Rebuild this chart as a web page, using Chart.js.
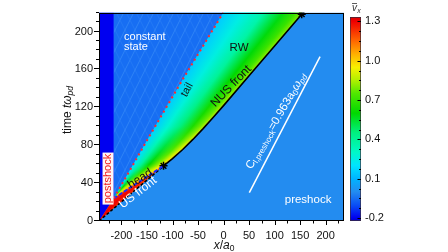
<!DOCTYPE html>
<html><head><meta charset="utf-8">
<script src="https://cdn.jsdelivr.net/npm/chart.js@4.4.1/dist/chart.umd.min.js"></script>
<style>
html,body{margin:0;padding:0;background:#fff;overflow:hidden}
#wrap{position:relative;width:448px;height:252px}
#main{position:absolute;left:0;top:0}
#cb{position:absolute;left:340px;top:0}
</style></head><body>
<div id="wrap"><canvas id="main" width="448" height="252"></canvas><canvas id="cb" width="108" height="252"></canvas></div>
<script>
// ---------------- data ----------------
const xRange = [-244, 236];
const tRange = [0, 220];
const xTickValues = [-200, -150, -100, -50, 0, 50, 100, 150, 200];
const tTickValues = [0, 40, 80, 120, 160, 200];
const cbTickValues = [-0.2, 0.1, 0.4, 0.7, 1.0, 1.3];
const cbRange = [-0.223, 1.334];

// characteristic lines (x/a0 , t*omega_pd)
const tailX = [-215, -144, -79, -0.5];
const tailT = [24, 90.6, 150.3, 220];
const headX = [-215, -117.6];
const headT = [24, 58.2];
const usFrontX = [-244, -117.6];
const usFrontT = [0, 58.2];
const nusFrontX = [-117.6, -100, -80, -60, -40, -20, 0, 50, 100, 153.2];
const nusFrontT = [58.2, 65.9, 75.5, 86.1, 97.5, 109.5, 121.8, 153.3, 184.8, 218.3];
const soundLineX = [50.5, 189.1];
const soundLineT = [29.9, 173.5];
const markerX = [-117.6, 153.2];
const markerT = [58.2, 218.3];
const postshockEdgeX = [-244, -215, -215];
const postshockEdgeT = [0, 24, 220];

// field values (v_x) in the regions
const postshockV = -0.2;
const constantV = -0.05;
const preshockV = 0.0;
// rarefaction wave: rows in time, columns = fraction between tail (0) and front (1)
const rwRowT = [24, 40, 60, 100, 150, 220];
const rwU = [0, 0.25, 0.5, 0.75, 0.9, 1];
const rwV = [
  [0.50, 0.80, 1.00, 1.10, 1.18, 1.22],
  [0.25, 0.55, 0.80, 0.95, 1.05, 1.10],
  [0.20, 0.40, 0.60, 0.80, 0.92, 1.00],
  [0.15, 0.28, 0.45, 0.65, 0.78, 0.88],
  [0.15, 0.26, 0.40, 0.60, 0.72, 0.82],
  [0.15, 0.25, 0.36, 0.58, 0.70, 0.80]
];
// wedge between head and US front
const usRowT = [0, 30, 58.2];
const usU = [0, 0.5, 1];
const usV = [
  [1.32, 1.30, 1.25],
  [1.25, 1.30, 1.22],
  [1.10, 1.20, 1.10]
];

// ---------------- styles ----------------
const F = "'Liberation Sans', Arial, sans-serif";
const cmapV = [-0.223, -0.2, -0.1, 0.0, 0.1, 0.2, 0.3, 0.45, 0.6, 0.75, 0.85, 0.95, 1.05, 1.15, 1.3, 1.334];
const cmapC = ['#0000c8', '#0000f0', '#0a50f5', '#238cf0', '#00b4ff', '#00e4ff', '#00f8c8', '#00f080', '#00d800', '#50e800', '#b0f000', '#f8f000', '#ffb000', '#ff6800', '#f00000', '#d80000'];

function hex(h) { return [parseInt(h.substr(1, 2), 16), parseInt(h.substr(3, 2), 16), parseInt(h.substr(5, 2), 16)]; }
function colorOf(v) {
  if (v <= cmapV[0]) return cmapC[0];
  for (let i = 1; i < cmapV.length; i++) {
    if (v <= cmapV[i]) {
      const f = (v - cmapV[i - 1]) / (cmapV[i] - cmapV[i - 1]);
      const a = hex(cmapC[i - 1]), b = hex(cmapC[i]);
      return 'rgb(' + a.map((c, k) => Math.round(c + f * (b[k] - c))).join(',') + ')';
    }
  }
  return cmapC[cmapC.length - 1];
}
function interp(xs, ys, v) {
  if (v <= xs[0]) return ys[0];
  for (let i = 1; i < xs.length; i++) {
    if (v <= xs[i]) { const f = (v - xs[i - 1]) / (xs[i] - xs[i - 1]); return ys[i - 1] + f * (ys[i] - ys[i - 1]); }
  }
  return ys[ys.length - 1];
}
function pts(xs, ts) { return xs.map((v, i) => ({ x: v, y: ts[i] })); }

function drawRich(ctx, parts, cx, cy, ang, color) {
  ctx.save();
  ctx.translate(cx, cy);
  ctx.rotate(ang * Math.PI / 180);
  ctx.fillStyle = color;
  ctx.textBaseline = 'middle';
  ctx.textAlign = 'left';
  let w = 0;
  parts.forEach(p => { ctx.font = p.f; w += ctx.measureText(p.s).width; });
  let xx = -w / 2;
  parts.forEach(p => { ctx.font = p.f; ctx.fillText(p.s, xx, p.dy || 0); xx += ctx.measureText(p.s).width; });
  ctx.restore();
}

function polyPath(ctx, x, y, ptsArr) {
  ctx.beginPath();
  ptsArr.forEach((p, i) => {
    const px = x.getPixelForValue(p[0]), py = y.getPixelForValue(p[1]);
    if (i === 0) ctx.moveTo(px, py); else ctx.lineTo(px, py);
  });
  ctx.closePath();
}

function streakPattern(ctx) {
  const c = document.createElement('canvas');
  c.width = 10; c.height = 20;
  const g = c.getContext('2d');
  g.lineWidth = 1;
  g.strokeStyle = 'rgba(110,190,255,0.28)';
  g.beginPath();
  g.moveTo(0, 20); g.lineTo(10, 0);
  g.stroke();
  g.strokeStyle = 'rgba(90,170,255,0.18)';
  g.beginPath();
  g.moveTo(0, 0); g.lineTo(10, 20);
  g.stroke();
  return ctx.createPattern(c, 'repeat');
}

function rowBands(ctx, x, y, a, t0, t1, lT, lX, rT, rX, rowT, U, V) {
  const pyA = Math.floor(y.getPixelForValue(t0));
  const pyB = Math.floor(Math.max(a.top, y.getPixelForValue(t1)));
  for (let py = pyA; py >= pyB; py--) {
    const t = y.getValueForPixel(py + 0.5);
    if (t < t0 - 0.6 || t > t1 + 0.6) continue;
    const xl = interp(lT, lX, t), xr = interp(rT, rX, t);
    const pl = x.getPixelForValue(xl), pr = x.getPixelForValue(xr);
    if (pr - pl < 0.3) continue;
    const g = ctx.createLinearGradient(pl, 0, pr, 0);
    U.forEach((u, j) => g.addColorStop(u, colorOf(interp(rowT, V.map(r => r[j]), t))));
    ctx.fillStyle = g;
    ctx.fillRect(pl, py, pr - pl, 1);
  }
}

const fieldPlugin = {
  id: 'field',
  beforeDatasetsDraw(chart) {
    const { ctx, chartArea: a, scales: { x, y } } = chart;
    ctx.save();
    ctx.beginPath(); ctx.rect(a.left, a.top, a.right - a.left, a.bottom - a.top); ctx.clip();
    ctx.fillStyle = colorOf(preshockV);
    ctx.fillRect(a.left, a.top, a.right - a.left, a.bottom - a.top);
    // postshock strip
    const strip = [[x.min, 0]].concat(postshockEdgeX.map((v, i) => [v, postshockEdgeT[i]]), [[x.min, y.max]]);
    polyPath(ctx, x, y, strip);
    ctx.fillStyle = colorOf(postshockV); ctx.fill();
    // constant state
    const cs = [];
    postshockEdgeX.forEach((v, i) => { if (postshockEdgeT[i] >= tailT[0]) cs.push([v, postshockEdgeT[i]]); });
    for (let i = tailX.length - 1; i >= 0; i--) cs.push([tailX[i], tailT[i]]);
    polyPath(ctx, x, y, cs);
    ctx.fillStyle = colorOf(constantV); ctx.fill();
    ctx.fillStyle = streakPattern(ctx); ctx.fill();
    // rarefaction wave
    const rT = headT.concat(nusFrontT.slice(1)), rX = headX.concat(nusFrontX.slice(1));
    rowBands(ctx, x, y, a, tailT[0], y.max, tailT, tailX, rT, rX, rwRowT, rwU, rwV);
    // wedge between head and US front
    const lT = postshockEdgeT.slice(0, 2).concat(headT.slice(1));
    const lX = postshockEdgeX.slice(0, 2).concat(headX.slice(1));
    rowBands(ctx, x, y, a, 0, usFrontT[1], lT, lX, usFrontT, usFrontX, usRowT, usU, usV);
    ctx.restore();
  },
  afterDatasetsDraw(chart) {
    const { ctx, scales: { x, y } } = chart;
    const X = v => x.getPixelForValue(v), Y = v => y.getPixelForValue(v);
    const f = (s, st) => (st || '') + ' ' + s + 'px ' + F;
    ctx.save(); ctx.font = f(11); ctx.fillStyle = '#fff'; ctx.textBaseline = 'middle'; ctx.textAlign = 'left';
    ctx.fillText('constant', X(-195), Y(194.5)); ctx.fillText('state', X(-195), Y(183.9)); ctx.restore();
    drawRich(ctx, [{ s: 'RW', f: f(11.5) }], X(30.4), Y(183.2), 0, '#111');
    drawRich(ctx, [{ s: 'tail', f: f(11) }], X(-71.5), Y(138.4), -62, '#111');
    drawRich(ctx, [{ s: 'NUS front', f: f(12) }], X(14.7), Y(142.3), -46, '#111');
    drawRich(ctx, [
      { s: 'C', f: f(11.5) }, { s: 'l,preshock', f: f(8), dy: 3 }, { s: '=0.963a', f: f(11.5) },
      { s: '0', f: f(8), dy: 3 }, { s: 'ω', f: f(11.5, 'italic') }, { s: 'pd', f: f(8, 'italic'), dy: 3 }
    ], X(102.9), Y(105.5), -60, '#fff');
    drawRich(ctx, [{ s: 'preshock', f: f(11.5) }], X(165.6), Y(21.9), 0, '#fff');
    drawRich(ctx, [{ s: 'head', f: f(12) }], X(-163.6), Y(44.6), -32, '#111');
    drawRich(ctx, [{ s: 'US front', f: f(12) }], X(-167.5), Y(29.9), -38, '#fff');
    const pcx = X(-226.3), pcy = Y(44.8);
    ctx.fillStyle = '#fff4f4';
    ctx.fillRect(pcx - 5.5, pcy - 26, 11, 52);
    drawRich(ctx, [{ s: 'postshock', f: f(11) }], pcx, pcy, -90, '#f01818');
  },
  afterDraw(chart) {
    const { ctx, chartArea: a, scales: { x, y } } = chart;
    ctx.save();
    ctx.strokeStyle = '#000'; ctx.lineWidth = 1;
    ctx.strokeRect(Math.round(a.left) + 0.5, Math.round(a.top) + 0.5, Math.round(a.right - a.left) - 1, Math.round(a.bottom - a.top) - 1);
    ctx.beginPath();
    for (let v = -225; v <= 225; v += 25) {
      const px = Math.round(x.getPixelForValue(v)) + 0.5;
      const L = (v % 50 === 0) ? 4 : 2.5;
      ctx.moveTo(px, a.bottom); ctx.lineTo(px, a.bottom + L);
    }
    for (let v = 0; v <= 220; v += 10) {
      const py = Math.round(y.getPixelForValue(v)) - 0.5;
      const L = (v % 40 === 0) ? 5 : 3;
      ctx.moveTo(a.left, py); ctx.lineTo(a.left - L, py);
    }
    ctx.stroke();
    ctx.restore();
    const f = (s, st) => (st || '') + ' ' + s + 'px ' + F;
    drawRich(ctx, [{ s: 'x', f: f(12, 'italic') }, { s: '/', f: f(12) }, { s: 'a', f: f(12, 'italic') }, { s: '0', f: f(8.5), dy: 3 }], 224, 246, 0, '#111');
    drawRich(ctx, [{ s: 'time ', f: f(12) }, { s: 't', f: f(12, 'italic') }, { s: 'ω', f: f(12, 'italic') }, { s: 'pd', f: f(8.5, 'italic'), dy: 3 }], 68, 110, -90, '#111');
  }
};

new Chart(document.getElementById('main'), {
  type: 'scatter',
  data: {
    datasets: [
      { data: pts(tailX, tailT), showLine: true, borderColor: '#ff2a2a', borderWidth: 2, borderDash: [2, 3.5], pointRadius: 0 },
      { data: pts(headX, headT), showLine: true, borderColor: '#1a2cff', borderWidth: 2, borderDash: [4, 2], pointRadius: 0 },
      { data: pts(usFrontX, usFrontT), showLine: true, borderColor: '#000', borderWidth: 1.6, borderDash: [3, 2], pointRadius: 0 },
      { data: pts(nusFrontX, nusFrontT), showLine: true, borderColor: '#000', borderWidth: 1.6, pointRadius: 0 },
      { data: pts(soundLineX, soundLineT), showLine: true, borderColor: '#fff', borderWidth: 1.5, pointRadius: 0 },
      { data: pts(markerX, markerT), showLine: false, pointStyle: 'star', pointRadius: 4, borderColor: '#000', borderWidth: 1.5, backgroundColor: '#000' }
    ]
  },
  options: {
    responsive: false, animation: false, devicePixelRatio: 1,
    layout: { padding: { left: 0, right: 104, top: 0, bottom: 0 } },
    elements: { line: { tension: 0 } },
    plugins: { legend: { display: false }, tooltip: { enabled: false } },
    scales: {
      x: {
        type: 'linear', min: xRange[0], max: xRange[1],
        grid: { display: false, drawTicks: false }, border: { display: false },
        afterBuildTicks: s => { s.ticks = xTickValues.map(v => ({ value: v })); },
        afterFit: s => { s.height = 31; },
        ticks: { autoSkip: false, maxRotation: 0, padding: 8, color: '#111', font: { family: F, size: 11 }, callback: v => String(v) }
      },
      y: {
        type: 'linear', min: tRange[0], max: tRange[1],
        grid: { display: false, drawTicks: false }, border: { display: false },
        afterBuildTicks: s => { s.ticks = tTickValues.map(v => ({ value: v })); },
        afterFit: s => { s.width = 99; },
        ticks: { autoSkip: false, padding: 6, color: '#111', font: { family: F, size: 11 }, callback: v => String(v) }
      }
    }
  },
  plugins: [fieldPlugin]
});

// ---------------- colour bar ----------------
const cbPlugin = {
  id: 'cbdeco',
  afterDatasetsDraw(chart) {
    const { ctx, chartArea: a, scales: { y } } = chart;
    ctx.save();
    ctx.strokeStyle = '#000'; ctx.lineWidth = 1;
    ctx.beginPath();
    for (let i = 0; i <= 20; i++) {
      const v = cbTickValues[0] + i * 0.075;
      const py = Math.round(y.getPixelForValue(v)) + 0.5;
      const L = (i % 4 === 0) ? 3.5 : 2;
      ctx.moveTo(a.right, py); ctx.lineTo(a.right - L, py);
    }
    ctx.stroke();
    ctx.restore();
    const cx = (a.left + a.right) / 2;
    ctx.save();
    ctx.fillStyle = '#333'; ctx.font = 'italic 10px ' + F; ctx.textBaseline = 'middle'; ctx.textAlign = 'center';
    ctx.fillText('v', cx - 1, 8);
    ctx.font = 'italic 7px ' + F;
    ctx.fillText('x', cx + 3.5, 11);
    ctx.strokeStyle = '#333'; ctx.lineWidth = 0.8;
    ctx.beginPath(); ctx.moveTo(cx - 3.5, 3.5); ctx.lineTo(cx + 1.5, 3.5); ctx.stroke();
    ctx.restore();
  }
};
function cbGradient(chart) {
  const { chartArea, scales } = chart;
  if (!chartArea || !scales.y) return '#888';
  const y = scales.y;
  const g = chart.ctx.createLinearGradient(0, y.getPixelForValue(cbRange[0]), 0, y.getPixelForValue(cbRange[1]));
  cmapV.forEach((v, i) => g.addColorStop(Math.min(1, Math.max(0, (v - cbRange[0]) / (cbRange[1] - cbRange[0]))), cmapC[i]));
  return g;
}
new Chart(document.getElementById('cb'), {
  type: 'bar',
  data: { labels: ['v'], datasets: [{ data: [cbRange.slice()], backgroundColor: c => cbGradient(c.chart), borderColor: '#3a2a3a', borderWidth: 1, borderSkipped: false, barPercentage: 1, categoryPercentage: 1 }] },
  options: {
    responsive: false, animation: false, devicePixelRatio: 1,
    layout: { padding: { left: 10, top: 17, bottom: 31, right: 0 } },
    plugins: { legend: { display: false }, tooltip: { enabled: false } },
    scales: {
      x: { display: false },
      y: {
        position: 'right', min: cbRange[0], max: cbRange[1],
        grid: { display: false, drawTicks: false }, border: { display: false },
        afterBuildTicks: s => { s.ticks = cbTickValues.map(v => ({ value: v })); },
        afterFit: s => { s.width = 87; },
        ticks: { autoSkip: false, padding: 4, color: '#111', font: { family: F, size: 11 }, callback: v => Number(v).toFixed(1) }
      }
    }
  },
  plugins: [cbPlugin]
});
</script>
</body></html>
